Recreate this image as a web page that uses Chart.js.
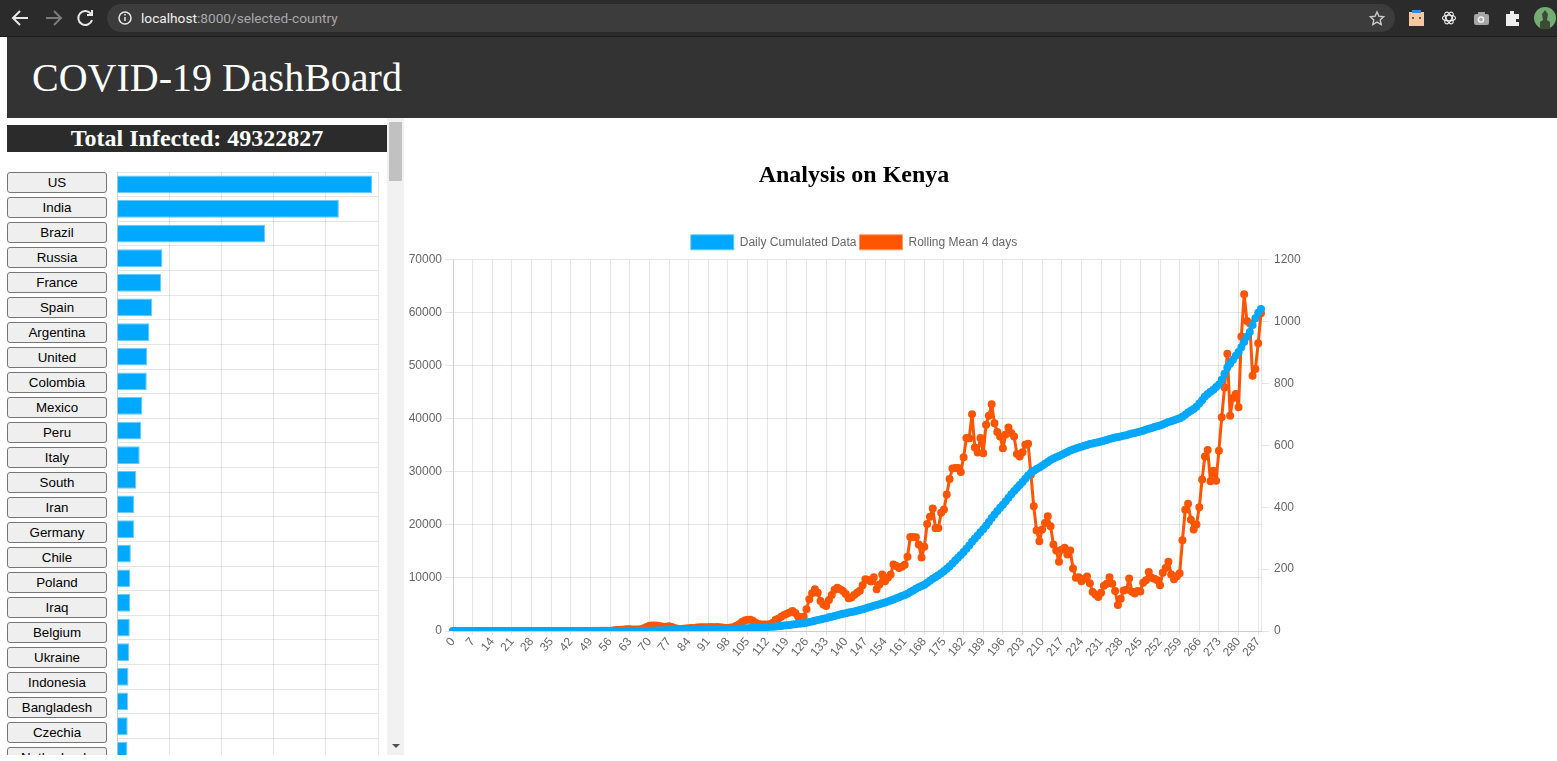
<!DOCTYPE html>
<html>
<head>
<meta charset="utf-8">
<title>COVID-19 DashBoard</title>
<script src="https://cdn.jsdelivr.net/npm/chart.js@4"></script>
<style>
  html, body { margin: 0; padding: 0; background: #fff; overflow: hidden; }
  body { width: 1557px; height: 761px; position: relative; }
  .abs { position: absolute; }
  #browser { left: 0; top: 0; width: 1557px; height: 37px; background: #2b2b2b; border-bottom: 1px solid #1c1c1c; box-sizing: border-box; }
  #urlbar { left: 107px; top: 4px; width: 1288px; height: 28px; border-radius: 14px; background: #3c3c3c; }
  #url { left: 141px; top: 8px; font: 13.7px/20px Roboto, sans-serif; color: #a8a8a8; white-space: nowrap; }
  #url b { font-weight: 400; color: #f0f0f0; }
  #header { left: 7px; top: 37px; width: 1550px; height: 81px; background: #333; }
  #header h1 { position: absolute; left: 25px; top: 17px; margin: 0; font: 400 40px/48px "Liberation Serif", serif; color: #fff; white-space: nowrap; }
  #total { left: 7px; top: 125px; width: 380px; height: 27px; background: #2b2b2b; color: #fff; text-align: center; font: 700 24px/27px "Liberation Serif", serif; }
  #side { left: 0; top: 118px; width: 387px; height: 637px; overflow: hidden; }
  #side button { position: absolute; left: 7px; width: 100px; height: 21px; padding: 0; box-sizing: border-box; background: #efefef; border: 1px solid #767676; border-radius: 3px; font: 13.33px "Liberation Sans", Arial, sans-serif; color: #000; }
  #barBox { position: absolute; left: 117px; top: 54px; width: 262px; height: 591px; }
  canvas { display: block; }
  #track { left: 387px; top: 118px; width: 17px; height: 637px; background: #f1f1f1; }
  #thumb { left: 389px; top: 122px; width: 13px; height: 59px; background: #c1c1c1; }
  #arrow { left: 392px; top: 744px; width: 0; height: 0; border-left: 4px solid transparent; border-right: 4px solid transparent; border-top: 4px solid #505050; }
  #lineBox { left: 404px; top: 130px; width: 900px; height: 540px; }
</style>
</head>
<body>
<div id="browser" class="abs"></div>
<div id="urlbar" class="abs"></div>
<svg class="abs" style="left:0;top:0" width="1557" height="37" fill="none" stroke-width="2">
  <path d="M28 18H14M20 11l-7 7 7 7" stroke="#e8e8e8"/>
  <path d="M46 18h14M54 11l7 7-7 7" stroke="#7c7c7c"/>
  <path d="M91 14a7 7 0 1 0 1 6M92 10v5h-5" stroke="#e8e8e8"/>
  <circle cx="125" cy="18" r="6" stroke="#e8e8e8" stroke-width="1.5"/>
  <path d="M125 17v4M125 14v1.5" stroke="#e8e8e8" stroke-width="1.5"/>
  <path d="M1377 12l2 4.300 4.600.5-3.400 3.100 1 4.600-4.200-2.400-4.200 2.400 1-4.600-3.400-3.100 4.600-.5z" stroke="#c8c8c8" stroke-width="1.4"/>
  <rect x="1409" y="12" width="15" height="14" fill="#f5c9a0" stroke="none"/>
  <rect x="1412" y="10" width="9" height="3" fill="#2d8cf0" stroke="none"/>
  <circle cx="1413" cy="18" r="1" fill="#333" stroke="none"/>
  <circle cx="1420" cy="18" r="1" fill="#333" stroke="none"/>
  <g stroke="#eee" stroke-width="1.100">
    <ellipse cx="1449" cy="18" rx="6.500" ry="2.800"/>
    <ellipse cx="1449" cy="18" rx="6.500" ry="2.800" transform="rotate(60 1449 18)"/>
    <ellipse cx="1449" cy="18" rx="6.500" ry="2.800" transform="rotate(120 1449 18)"/>
  </g>
  <rect x="1474" y="14" width="15" height="11" rx="2" fill="#a6a6a6" stroke="none"/>
  <rect x="1478" y="12" width="7" height="3" fill="#a6a6a6" stroke="none"/>
  <circle cx="1481" cy="19.500" r="2.600" stroke="#eee" stroke-width="1.500"/>
  <path d="M1506 14h4v-3h4v3h5v5h-3v3h3v4h-13z" fill="#eee" stroke="none"/>
  <circle cx="1545" cy="18" r="11" fill="#74ad74" stroke="none"/>
  <path d="M1540 29v-7l3-2-1-6 3-4 3 4-1 6 3 2v7z" fill="#3c4a36" stroke="none"/>
</svg>
<div id="url" class="abs"><b>localhost</b>:8000/selected-country</div>

<div id="header" class="abs"><h1>COVID-19 DashBoard</h1></div>

<div id="side" class="abs">
  <div id="barBox"><canvas id="barChart" width="262" height="591"></canvas></div>
</div>
<div id="total" class="abs">Total Infected: 49322827</div>
<div id="track" class="abs"></div>
<div id="thumb" class="abs"></div>
<div id="arrow" class="abs"></div>

<div id="lineBox" class="abs"><canvas id="lineChart" width="900" height="540"></canvas></div>

<script>
const countries = ["US", "India", "Brazil", "Russia", "France", "Spain", "Argentina", "United",
  "Colombia", "Mexico", "Peru", "Italy", "South", "Iran", "Germany", "Chile", "Poland", "Iraq",
  "Belgium", "Ukraine", "Indonesia", "Bangladesh", "Czechia", "Netherlands"];
const infected = [9770000, 8500000, 5670000, 1740000, 1690000, 1350000, 1240000, 1160000,
  1140000, 970000, 930000, 870000, 740000, 660000, 650000, 530000, 510000, 500000,
  490000, 460000, 440000, 420000, 410000, 400000];

const dayLabels = [];
for (let i = 0; i <= 288; i++) dayLabels.push(String(i));

const dailyCumulated = [
  0, 0, 0, 0, 0, 0, 0, 0, 0, 0, 0, 0, 0, 0, 0, 0, 0, 0, 0, 0, 0, 0, 0, 0, 0,
  0, 0, 0, 0, 0, 0, 0, 0, 0, 0, 0, 0, 0, 0, 0, 0, 0, 0, 0, 0, 0, 0, 0, 0, 0,
  0, 1, 1, 1, 3, 3, 3, 7, 7, 7, 7, 15, 16, 16, 25, 25, 28, 31, 38, 42,
  50, 59, 81, 110, 122, 126, 142, 158, 172, 179, 184, 189, 191, 197, 208, 216, 225, 234, 246, 262,
  270, 281, 296, 303, 320, 336, 343, 355, 374, 384,
  400, 415, 432, 460, 490, 535, 580, 610, 640, 665, 690, 715, 750, 780, 810, 850, 900, 960, 1020, 1080,
  1150, 1220, 1290, 1350, 1400, 1450, 1555, 1680, 1810, 1950, 2080, 2190, 2300, 2400,
  2580, 2700, 2835, 2975, 3110, 3240, 3360, 3470, 3575, 3690, 3815, 3945, 4090, 4260, 4425, 4585,
  4760, 4895, 5045, 5230, 5390, 5560, 5745, 5960, 6170, 6375, 6585, 6800, 7040, 7345, 7650, 7950,
  8230, 8470, 8740, 9085, 9455, 9850, 10185, 10520, 10900, 11295, 11735, 12225, 12750, 13280, 13805, 14320,
  14880, 15505, 16130, 16830, 17420, 18000, 18620, 19200, 19865, 20560, 21295, 21965, 22610, 23240, 23830, 24465,
  25125, 25765, 26395, 26965, 27530, 28105, 28710, 29315, 29820, 30225, 30550, 30840, 31170, 31520, 31890, 32230,
  32510, 32770, 32995, 33260, 33530, 33775, 34035, 34240, 34410, 34585, 34745, 34915, 35090, 35245, 35370, 35490,
  35600, 35725, 35870, 36025, 36200, 36350, 36480, 36565, 36670, 36800, 36935, 37105, 37230, 37350, 37480, 37610,
  37765, 37930, 38120, 38290, 38460, 38625, 38775, 38960, 39165, 39390, 39575, 39740, 39915, 40100, 40395, 40785,
  41195, 41555, 41885, 42300, 42900, 43500, 44200, 44700, 45100, 45500, 46000, 46500, 47400, 48500, 49700, 50400,
  51150, 51900, 52600, 53500, 54500, 55500, 56400, 57700, 59000, 60000, 60700
];

const rollingMean = [
  0, 0, 0, 0, 0, 0, 0, 0, 0, 0, 0, 0, 0, 0, 0, 0, 0, 0, 0, 0, 0, 0, 0, 0, 0,
  0, 0, 0, 0, 0, 0, 0, 0, 0, 0, 0, 0, 0, 0, 0, 0, 0, 0, 0, 0, 0, 0, 0, 0, 0,
  0, 0, 0, 1, 1, 1, 1, 2, 3, 3, 4, 5, 6, 6, 5, 5, 5, 6, 9, 13,
  17, 18, 18, 17, 15, 14, 14, 15, 13, 10, 7, 6, 7, 8, 9, 10, 10, 11, 12, 12,
  12, 12, 13, 12, 13, 12, 11, 10, 10, 11, 12, 17, 22, 29, 34, 36, 36, 32, 26, 23,
  21, 21, 21, 22, 27, 36, 40, 46, 52, 56, 60, 65, 58, 47, 44, 46, 70, 103, 122, 135,
  124, 97, 86, 81, 100, 116, 133, 140, 135, 129, 120, 106, 108, 116, 124, 130, 148, 167, 165, 160,
  174, 135, 150, 183, 161, 172, 183, 215, 210, 204, 208, 214, 240, 304, 304, 303, 280, 238, 272, 346,
  369, 396, 332, 333, 382, 393, 441, 491, 525, 527, 527, 514, 562, 624, 623, 701, 593, 577, 624, 575,
  667, 696, 733, 672, 643, 629, 591, 635, 658, 640, 629, 572, 564, 578, 602, 605, 505, 403, 325, 290,
  328, 349, 371, 339, 280, 260, 224, 263, 269, 247, 260, 202, 172, 174, 161, 169, 176, 154, 126, 118,
  110, 124, 146, 153, 174, 153, 129, 84, 104, 131, 133, 170, 127, 121, 129, 128, 156, 164, 191, 172,
  169, 164, 148, 188, 204, 224, 183, 167, 177, 187, 293, 392, 411, 360, 328, 344, 400, 490, 564, 585,
  484, 518, 486, 583, 691, 787, 896, 696, 753, 766, 723, 952, 1089, 1002, 995, 825, 847, 930, 1027
];

const leftTickMax = 70000;
const rightTickMax = 1200;

Chart.defaults.font.family = '"Liberation Sans", Arial, sans-serif';
Chart.defaults.font.size = 12;
Chart.defaults.color = "#666";
Chart.defaults.animation = false;

// Country buttons next to the bars
const side = document.getElementById("side");
countries.forEach((name, i) => {
  const btn = document.createElement("button");
  btn.textContent = name;
  btn.style.top = 54 + i * 25 + "px";
  side.appendChild(btn);
});

// Sidebar bar chart (runs past the clipped bottom edge, like the scrolled original)
new Chart(document.getElementById("barChart"), {
  type: "bar",
  data: {
    labels: countries,
    datasets: [
      {
        data: infected,
        backgroundColor: "#00a8ff",
        borderColor: "#66cbff",
        borderWidth: 1,
      },
    ],
  },
  options: {
    indexAxis: "y",
    responsive: false,
    maintainAspectRatio: false,
    layout: { padding: { left: 0, right: 1, top: 0, bottom: 0 } },
    plugins: { legend: { display: false }, tooltip: { enabled: false } },
    scales: {
      x: {
        min: 0,
        max: 10000000,
        ticks: { display: false, stepSize: 2000000 },
        grid: { tickLength: 0 },
        afterFit: (scale) => { scale.height = 0; },
      },
      y: {
        ticks: { display: false },
        grid: { tickLength: 0 },
        afterFit: (scale) => { scale.width = 0; },
      },
    },
  },
});

// Main analysis chart
new Chart(document.getElementById("lineChart"), {
  type: "line",
  data: {
    labels: dayLabels,
    datasets: [
      {
        label: "Daily Cumulated Data",
        data: dailyCumulated,
        yAxisID: "yLeft",
        borderColor: "#00a8ff",
        backgroundColor: "#00a8ff",
        borderWidth: 3,
        borderJoinStyle: "round",
        pointRadius: 3,
        pointBorderWidth: 2,
        tension: 0,
      },
      {
        label: "Rolling Mean 4 days",
        data: rollingMean,
        yAxisID: "yRight",
        borderColor: "#ff5500",
        backgroundColor: "#ff5500",
        borderWidth: 3,
        borderJoinStyle: "round",
        pointRadius: 3,
        pointBorderWidth: 2,
        tension: 0,
      },
    ],
  },
  options: {
    responsive: false,
    maintainAspectRatio: false,
    plugins: {
      tooltip: { enabled: false },
      title: {
        display: true,
        text: "Analysis on Kenya",
        color: "#000",
        font: { family: '"Liberation Serif", serif', size: 24, weight: "bold" },
        padding: { top: 31, bottom: 42 },
      },
      legend: {
        labels: {
          boxWidth: 43,
          boxHeight: 15,
          padding: 3,
          generateLabels: (chart) =>
            Chart.defaults.plugins.legend.labels.generateLabels(chart).map((item, i) => ({
              ...item,
              strokeStyle: i === 0 ? "#66cbff" : "#ff9966",
              lineWidth: 1,
            })),
        },
      },
    },
    scales: {
      x: {
        grid: { tickLength: 4 },
        ticks: {
          autoSkip: false,
          minRotation: 50,
          maxRotation: 50,
          padding: 0,
          callback: function (value, index) {
            return index % 7 === 0 ? dayLabels[index] : null;
          },
        },
        afterFit: (scale) => { scale.height = 39; },
      },
      yLeft: {
        position: "left",
        min: 0,
        max: leftTickMax,
        ticks: { stepSize: 10000, callback: (value) => String(value) },
        afterFit: (scale) => { scale.width = 49; },
      },
      yRight: {
        position: "right",
        min: 0,
        max: rightTickMax,
        ticks: { stepSize: 200, padding: 5, callback: (value) => String(value) },
        grid: { drawOnChartArea: false },
        afterFit: (scale) => { scale.width = 43; },
      },
    },
  },
});
</script>
</body>
</html>
